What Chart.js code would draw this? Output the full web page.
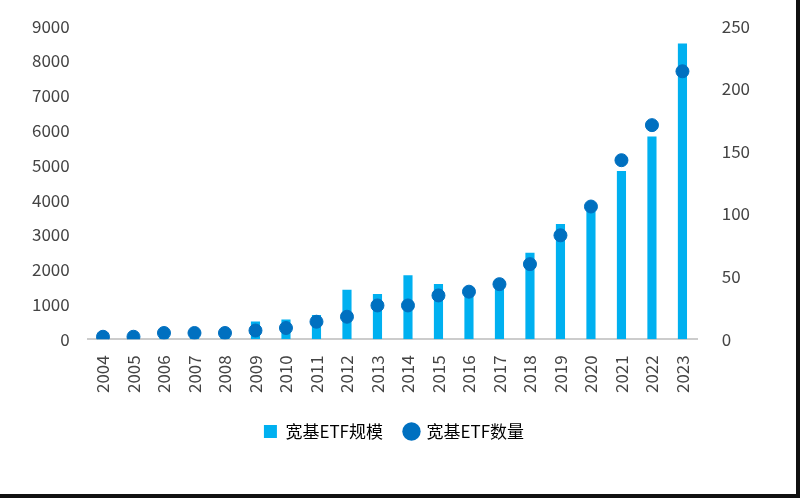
<!DOCTYPE html>
<html><head><meta charset="utf-8">
<script src="https://cdn.jsdelivr.net/npm/chart.js@4"></script>
<style>
html,body{margin:0;padding:0;background:#fff}
#wrap{width:796px;height:494px;border-right:4px solid #111;border-bottom:4px solid #111}
</style></head>
<body><div id="wrap"><canvas id="c" width="796" height="494"></canvas></div>
<script>
const years = ['2004','2005','2006','2007','2008','2009','2010','2011','2012','2013','2014','2015','2016','2017','2018','2019','2020','2021','2022','2023'];
const scale = [20, 30, 90, 90, 90, 510, 570, 700, 1420, 1300, 1840, 1590, 1420, 1730, 2490, 3310, 3900, 4840, 5830, 8500];
const count = [2, 2, 5, 5, 5, 7, 9, 14, 18, 27, 27, 35, 38, 44, 60, 83, 106, 143, 171, 214];

const font = {family: '"Noto Sans CJK SC", "Noto Sans", sans-serif', size: 17};
Chart.defaults.color = '#444';

new Chart(document.getElementById('c'), {
  data: {
    labels: years,
    datasets: [
      {type: 'scatter', label: '宽基ETF数量', data: count, yAxisID: 'y1',
       backgroundColor: '#0070C0', borderColor: '#0070C0', pointRadius: 6.5, pointHoverRadius: 6.5},
      {type: 'bar', label: '宽基ETF规模', data: scale, yAxisID: 'y',
       backgroundColor: '#00B0F0', barPercentage: 0.3, categoryPercentage: 1}
    ]
  },
  options: {
    responsive: false, animation: false,
    layout: {padding: {left: 22, right: 30, top: 18, bottom: 18}},
    plugins: {
      tooltip: {enabled: false},
      legend: {position: 'bottom', reverse: true,
        labels: {font: font, color: '#333', usePointStyle: true, boxWidth: 13, boxHeight: 13, padding: 22,
          generateLabels(chart) {
            return chart.data.datasets.map((d, i) => ({
              text: d.label, fillStyle: d.backgroundColor, strokeStyle: d.backgroundColor,
              pointStyle: d.type === 'bar' ? 'rect' : 'circle', datasetIndex: i, lineWidth: 0
            }));
          }}}
    },
    scales: {
      x: {type: 'category', offset: true, grid: {display: false},
        border: {color: '#ccc', width: 2},
        ticks: {font: font, color: '#444', maxRotation: 90, minRotation: 90, padding: 8}},
      y: {position: 'left', min: 0, max: 9000, grid: {display: false}, border: {display: false},
        ticks: {stepSize: 1000, font: font, color: '#444', padding: 10, callback: v => String(v)}},
      y1: {position: 'right', min: 0, max: 250, grid: {display: false}, border: {display: false},
        ticks: {stepSize: 50, font: font, color: '#444', padding: 16}}
    }
  },
  plugins: [{
    id: 'legendGap',
    beforeInit(chart) {
      const fit = chart.legend.fit;
      chart.legend.fit = function () { fit.bind(chart.legend)(); this.height += 26; };
    }
  }]
});
</script></body></html>
